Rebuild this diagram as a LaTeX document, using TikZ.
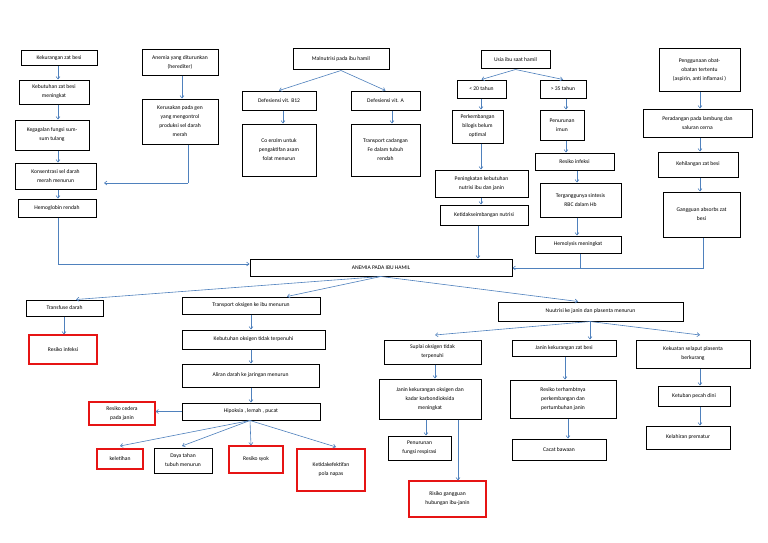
\documentclass[tikz,border=0pt]{standalone}
\usepackage{fontspec}
\setmainfont{Carlito}
\usetikzlibrary{fit,arrows.meta}
\definecolor{ar}{RGB}{79,129,189}
\definecolor{rd}{RGB}{230,20,20}
\tikzset{
 box/.style={draw=black,line width=1pt,inner sep=0pt,align=center,font=\fontsize{5.6}{9}\selectfont},
 rbox/.style={box,draw=rd,line width=1.1pt},
 con/.style={draw=ar,line width=0.6pt,-{Straight Barb[length=2.5pt,width=4pt]}},
 ln/.style={draw=ar,line width=0.6pt}
}
\newcommand\bx[7][box]{\node[#1,fit={(#3,#4) (#5,#6)}] (#2) {}; \node[font=\fontsize{5.6}{9}\selectfont,align=center] at (#2.center) {#7};}
\begin{document}
\begin{tikzpicture}[x=1pt,y=-1pt]
\useasboundingbox[fill=white] (0,0) rectangle (768,543);
\bx{k1}{21}{51}{97}{66}{Kekurangan zat besi}
\bx{k2}{19}{80}{89}{104}{Kebutuhan zat besi\\meningkat}
\bx{k3}{15}{120}{89}{150}{Kegagalan fungsi sum-\\sum tulang}
\bx{k4}{15}{163}{96}{189}{Konsentrasi sel darah\\merah menurun}
\bx{k5}{18}{199}{96}{217}{Hemoglobin rendah}
\bx{a1}{142}{50}{218}{75}{Anemia yang diturunkan\\(herediter)}
\bx{a2}{142}{99}{218}{144}{Kerusakan pada gen\\yang mengontrol\\produksi sel darah\\merah}
\bx{m1}{293}{49}{389}{70}{Malnutrisi pada ibu hamil}
\bx{m2}{242}{91}{316}{110}{Defesiensi vit. B12}
\bx{m3}{351}{91}{420}{110}{Defesiensi vit. A}
\bx{m4}{242}{124}{316}{176}{Co enzim untuk\\pengaktifan asam\\folat menurun}
\bx{m5}{351}{124}{420}{176}{Transport cadangan\\Fe dalam tubuh\\rendah}
\bx{u1}{481}{51}{550}{69}{Usia ibu saat hamil}
\bx{u2}{457}{80}{506}{98}{< 20 tahun}
\bx{u3}{540}{80}{586}{98}{> 35 tahun}
\bx{u4}{452}{110}{503}{143}{Perkembangan\\bilogis belum\\optimal}
\bx{u5}{540}{110}{584}{140}{Penurunan\\imun}
\bx{u6}{535}{153}{614}{170}{Resiko infeksi}
\bx{u7}{435}{170}{528}{197}{Peningkatan kebutuhan\\nutrisi ibu dan janin}
\bx{u8}{440}{205}{528}{225}{Ketidakseimbangan nutrisi}
\bx{u9}{540}{183}{621}{217}{Terganggunya sintesis\\RBC dalam Hb}
\bx{u10}{535}{236}{621}{253}{Hemolysis meningkat}
\bx{p1}{659}{49}{740}{91}{Penggunaan obat-\\obatan tertentu\\(aspirin, anti inflamasi )}
\bx{p2}{643}{109}{752}{137}{Peradangan pada lambung dan\\saluran cerna}
\bx{p3}{658}{152}{738}{177}{Kehilangan zat besi}
\bx{p4}{663}{192}{740}{237}{Gangguan absorbs zat\\besi}
\bx{main}{250}{259}{512}{276}{ANEMIA PADA IBU HAMIL}
\bx{b1}{26}{300}{103}{316}{Transfuse darah}
\bx{b2}{182}{297}{320}{314}{Transport oksigen ke ibu menurun}
\bx{b3}{182}{330}{325}{349}{Kebutuhan oksigen tidak terpenuhi}
\bx{b4}{182}{364}{319}{387}{Aliran darah ke jaringan menurun}
\bx{b5}{182}{403}{320}{420}{Hipoksia , lemah , pucat}
\bx[rbox]{r1}{29}{335}{97}{364}{Resiko infeksi}
\bx[rbox]{r2}{89}{402}{155}{425}{Resiko cedera\\pada janin}
\bx[rbox]{r3}{97}{449}{143}{469}{keletihan}
\bx{b6}{154}{448}{212}{473}{Daya tahan\\tubuh menurun}
\bx[rbox]{r4}{229}{446}{283}{473}{Resiko syok}
\bx[rbox]{r5}{297}{449}{365}{491}{Ketidakefektifan\\pola napas}
\bx{n1}{498}{302}{683}{321}{Nuutrisi ke janin dan plasenta menurun}
\bx{n2}{384}{340}{481}{364}{Suplai oksigen tidak\\terpenuhi}
\bx{n3}{512}{340}{616}{356}{Janin kekurangan zat besi}
\bx{n4}{636}{340}{750}{368}{Kekuatan selaput plasenta\\berkurang}
\bx{n5}{379}{379}{481}{419}{Janin kekurangan oksigen dan\\kadar karbondioksida\\meningkat}
\bx{n6}{388}{436}{451}{460}{Penurunan\\fungsi respirasi}
\bx[rbox]{n7}{409}{481}{486}{517}{Risiko gangguan\\hubungan ibu-janin}
\bx{n8}{510}{380}{616}{418}{Resiko terhambtnya\\perkembangan dan\\pertumbuhan janin}
\bx{n9}{512}{439}{606}{460}{Cacat bawaan}
\bx{n10}{658}{386}{730}{406}{Ketuban pecah dini}
\bx{n11}{646}{426}{730}{449}{Kelahiran prematur}
% left column
\draw[con] (k1.south -| 58,0) -- (k2.north -| 58,0);
\draw[con] (k2.south -| 58,0) -- (k3.north -| 58,0);
\draw[con] (k3.south -| 58,0) -- (k4.north -| 58,0);
\draw[con] (k4.south -| 58,0) -- (k5.north -| 58,0);
\draw[con] (a1.south -| 182,0) -- (a2.north -| 182,0);
\coordinate (ac) at (188,183);
\draw[ln] (a2.south -| ac) -- (ac);
\draw[con] (ac) -- (104,183);
\draw[con] (m1.south) -- (m2.north);
\draw[con] (m1.south) -- (m3.north);
\draw[con] (m2.south -| 283,0) -- (m4.north -| 283,0);
\draw[con] (m3.south -| 392,0) -- (m5.north -| 392,0);
\draw[con] (u1.south) -- (u2.north);
\draw[con] (u1.south) -- (u3.north);
\draw[con] (u2.south -| 481,0) -- (u4.north -| 481,0);
\draw[con] (u3.south -| 566,0) -- (u5.north -| 566,0);
\draw[con] (u5.south -| 566,0) -- (u6.north -| 566,0);
\draw[con] (u4.south -| 481,0) -- (u7.north -| 481,0);
\draw[con] (u7.south -| 481,0) -- (u8.north -| 481,0);
\draw[con] (u6.south -| 577,0) -- (u9.north -| 577,0);
\draw[con] (u9.south -| 577,0) -- (u10.north -| 577,0);
\draw[con] (p1.south -| 700,0) -- (p2.north -| 700,0);
\draw[con] (p2.south -| 700,0) -- (p3.north -| 700,0);
\draw[con] (p3.south -| 700,0) -- (p4.north -| 700,0);
% into main
\draw[con] (k5.south -| 58,0) |- (main.west |- 0,264);
\draw[con] (u8.south -| 478,0) -- (main.north -| 478,0);
\draw[con] (p4.south -| 703,0) |- (main.east |- 0,268);
\draw[ln] (u10.south -| 580,0) -- (580,268);
% from main
\draw[con] (main.south) -- (b1.north -| 76,0);
\draw[con] (main.south) -- (b2.north -| 287,0);
\draw[con] (main.south) -- (n1.north -| 578,0);
\draw[con] (b1.south -| 64,0) -- (r1.north -| 64,0);
\draw[con] (b2.south -| 251,0) -- (b3.north -| 251,0);
\draw[con] (b3.south -| 251,0) -- (b4.north -| 251,0);
\draw[con] (b4.south -| 251,0) -- (b5.north -| 251,0);
\draw[con] (b5.west) -- (r2.east |- b5.west);
\draw[con] (b5.south -| 250,0) -- (120,446);
\draw[con] (b5.south -| 250,0) -- (182,446);
\draw[con] (b5.south -| 250,0) -- (r4.north -| 251,0);
\draw[con] (b5.south -| 250,0) -- (336,447);
\draw[con] (n1.south -| 590,0) -- (435,335);
\draw[con] (n1.south -| 590,0) -- (n3.north -| 590,0);
\draw[con] (n1.south -| 590,0) -- (700,335);
\draw[con] (n2.south -| 435,0) -- (n5.north -| 435,0);
\draw[con] (n5.south -| 426,0) -- (n6.north -| 426,0);
\draw[con] (n5.south -| 458,0) -- (n7.north -| 458,0);
\draw[con] (n3.south -| 565,0) -- (n8.north -| 565,0);
\draw[con] (n8.south -| 568,0) -- (n9.north -| 568,0);
\draw[con] (n4.south -| 700,0) -- (n10.north -| 700,0);
\draw[con] (n10.south -| 700,0) -- (n11.north -| 700,0);
\end{tikzpicture}
\end{document}
